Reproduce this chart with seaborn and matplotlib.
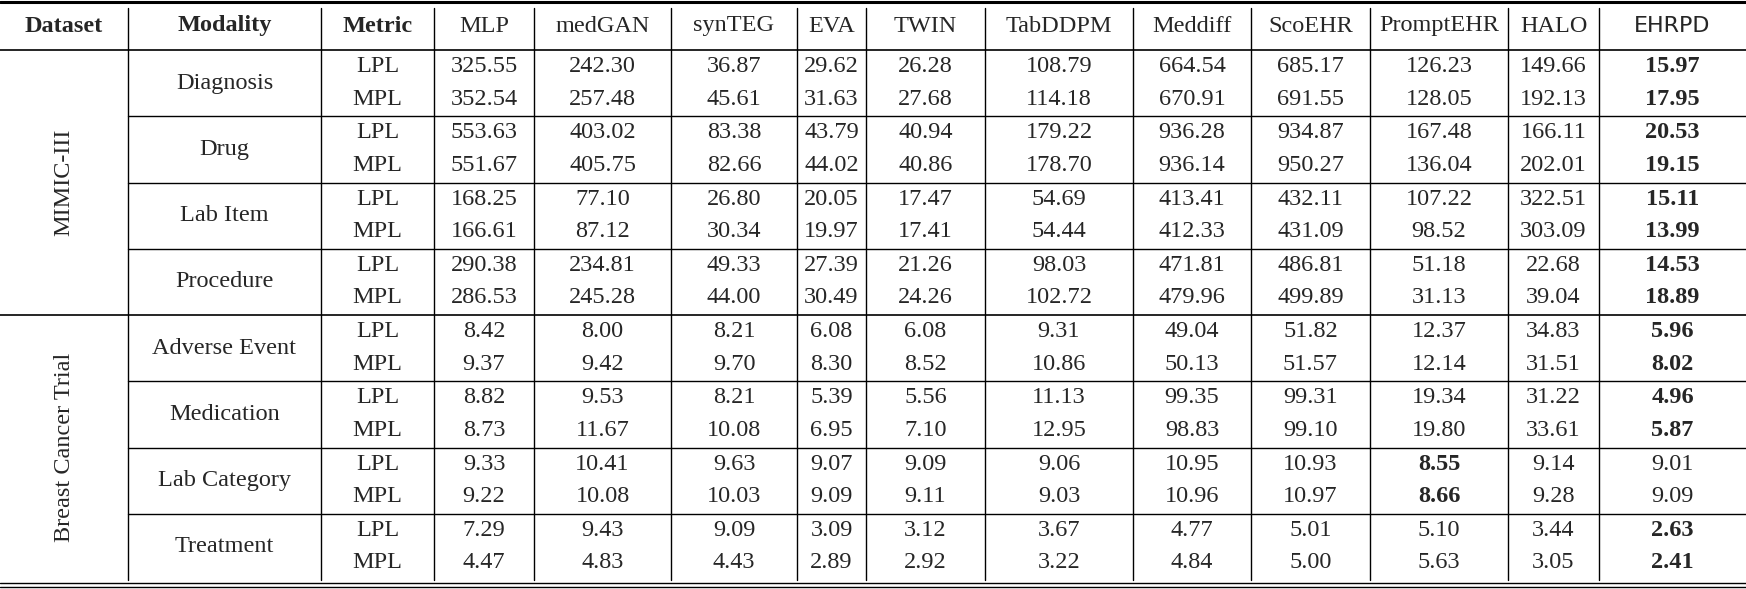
import numpy as np
import seaborn as sns
import matplotlib.pyplot as plt

datasets = ["MIMIC-III", "Breast Cancer Trial"]
modalities = ["Diagnosis", "Drug", "Lab Item", "Procedure",
              "Adverse Event", "Medication", "Lab Category", "Treatment"]
metrics = ["LPL", "MPL"]
methods = ["MLP", "medGAN", "synTEG", "EVA", "TWIN", "TabDDPM",
           "Meddiff", "ScoEHR", "PromptEHR", "HALO", "EHRPD"]

mlp = [325.55, 352.54, 553.63, 551.67, 168.25, 166.61, 290.38, 286.53,
       8.42, 9.37, 8.82, 8.73, 9.33, 9.22, 7.29, 4.47]
medgan = [242.30, 257.48, 403.02, 405.75, 77.10, 87.12, 234.81, 245.28,
          8.00, 9.42, 9.53, 11.67, 10.41, 10.08, 9.43, 4.83]
synteg = [36.87, 45.61, 83.38, 82.66, 26.80, 30.34, 49.33, 44.00,
          8.21, 9.70, 8.21, 10.08, 9.63, 10.03, 9.09, 4.43]
eva = [29.62, 31.63, 43.79, 44.02, 20.05, 19.97, 27.39, 30.49,
       6.08, 8.30, 5.39, 6.95, 9.07, 9.09, 3.09, 2.89]
twin = [26.28, 27.68, 40.94, 40.86, 17.47, 17.41, 21.26, 24.26,
        6.08, 8.52, 5.56, 7.10, 9.09, 9.11, 3.12, 2.92]
tabddpm = [108.79, 114.18, 179.22, 178.70, 54.69, 54.44, 98.03, 102.72,
           9.31, 10.86, 11.13, 12.95, 9.06, 9.03, 3.67, 3.22]
meddiff = [664.54, 670.91, 936.28, 936.14, 413.41, 412.33, 471.81, 479.96,
           49.04, 50.13, 99.35, 98.83, 10.95, 10.96, 4.77, 4.84]
scoehr = [685.17, 691.55, 934.87, 950.27, 432.11, 431.09, 486.81, 499.89,
          51.82, 51.57, 99.31, 99.10, 10.93, 10.97, 5.01, 5.00]
promptehr = [126.23, 128.05, 167.48, 136.04, 107.22, 98.52, 51.18, 31.13,
             12.37, 12.14, 19.34, 19.80, 8.55, 8.66, 5.10, 5.63]
halo = [149.66, 192.13, 166.11, 202.01, 322.51, 303.09, 22.68, 39.04,
        34.83, 31.51, 31.22, 33.61, 9.14, 9.28, 3.44, 3.05]
ehrpd = [15.97, 17.95, 20.53, 19.15, 15.11, 13.99, 14.53, 18.89,
         5.96, 8.02, 4.96, 5.87, 9.01, 9.09, 2.63, 2.41]
columns = [mlp, medgan, synteg, eva, twin, tabddpm, meddiff, scoehr,
           promptehr, halo, ehrpd]

sns.set_theme(style="white")
serif = ["Liberation Serif", "DejaVu Serif"]

W, H = 1746, 589
fig = plt.figure(figsize=(W / 100, H / 100), dpi=100)
ax = fig.add_axes([0, 0, 1, 1])
ax.set_xlim(0, W)
ax.set_ylim(H, 0)
ax.axis("off")

edges = [0, 128, 321, 434, 534, 671, 797, 866, 985, 1133, 1251, 1370, 1508, 1599, 1746]
head_y, top, bot = 50, 50, 580
group_h = (bot - top) / len(modalities)
fs = 17.5

def cx(i):
    return (edges[i] + edges[i + 1]) / 2

# header
headers = ["Dataset", "Modality", "Metric"] + methods
for i, h in enumerate(headers):
    if i < 3:
        ax.text(cx(i), 26, h, ha="center", va="center", fontsize=fs, family=serif, weight="bold")
    elif h == "EHRPD":
        ax.text(cx(i), 26, h, ha="center", va="center", fontsize=fs - 1.5, family="DejaVu Sans")
    else:
        ax.text(cx(i), 26, h, ha="center", va="center", fontsize=fs, family=serif)

# rules
ax.plot([0, W], [2, 2], color="black", lw=2.2)
ax.plot([0, W], [head_y, head_y], color="black", lw=1.2)
ax.plot([0, W], [583, 583], color="black", lw=1.0)
ax.plot([0, W], [587, 587], color="black", lw=1.0)
for x in edges[1:-1]:
    ax.plot([x, x], [8, bot], color="black", lw=1.0)

n_per = len(modalities) // len(datasets)
for d, name in enumerate(datasets):
    y0 = top + d * n_per * group_h
    ax.text(cx(0), y0 + n_per * group_h / 2, name, rotation=90, ha="center", va="center",
            fontsize=fs, family=serif)
    if d > 0:
        ax.plot([0, W], [y0, y0], color="black", lw=1.2)

for g, mod in enumerate(modalities):
    y0 = top + g * group_h
    if g % n_per != 0:
        ax.plot([edges[1], W], [y0, y0], color="black", lw=1.0)
    ax.text(cx(1), y0 + group_h / 2, mod, ha="center", va="center", fontsize=fs, family=serif)
    for r, met in enumerate(metrics):
        row = 2 * g + r
        yc = y0 + group_h * (0.25 + 0.49 * r)
        ax.text(cx(2), yc, met, ha="center", va="center", fontsize=fs, family=serif)
        vals = [c[row] for c in columns]
        best = int(np.argmin(vals))
        for j, v in enumerate(vals):
            ax.text(cx(3 + j), yc, f"{v:.2f}", ha="center", va="center", fontsize=fs,
                    family=serif, weight="bold" if j == best else "normal")

fig.savefig("out.png", dpi=100)
